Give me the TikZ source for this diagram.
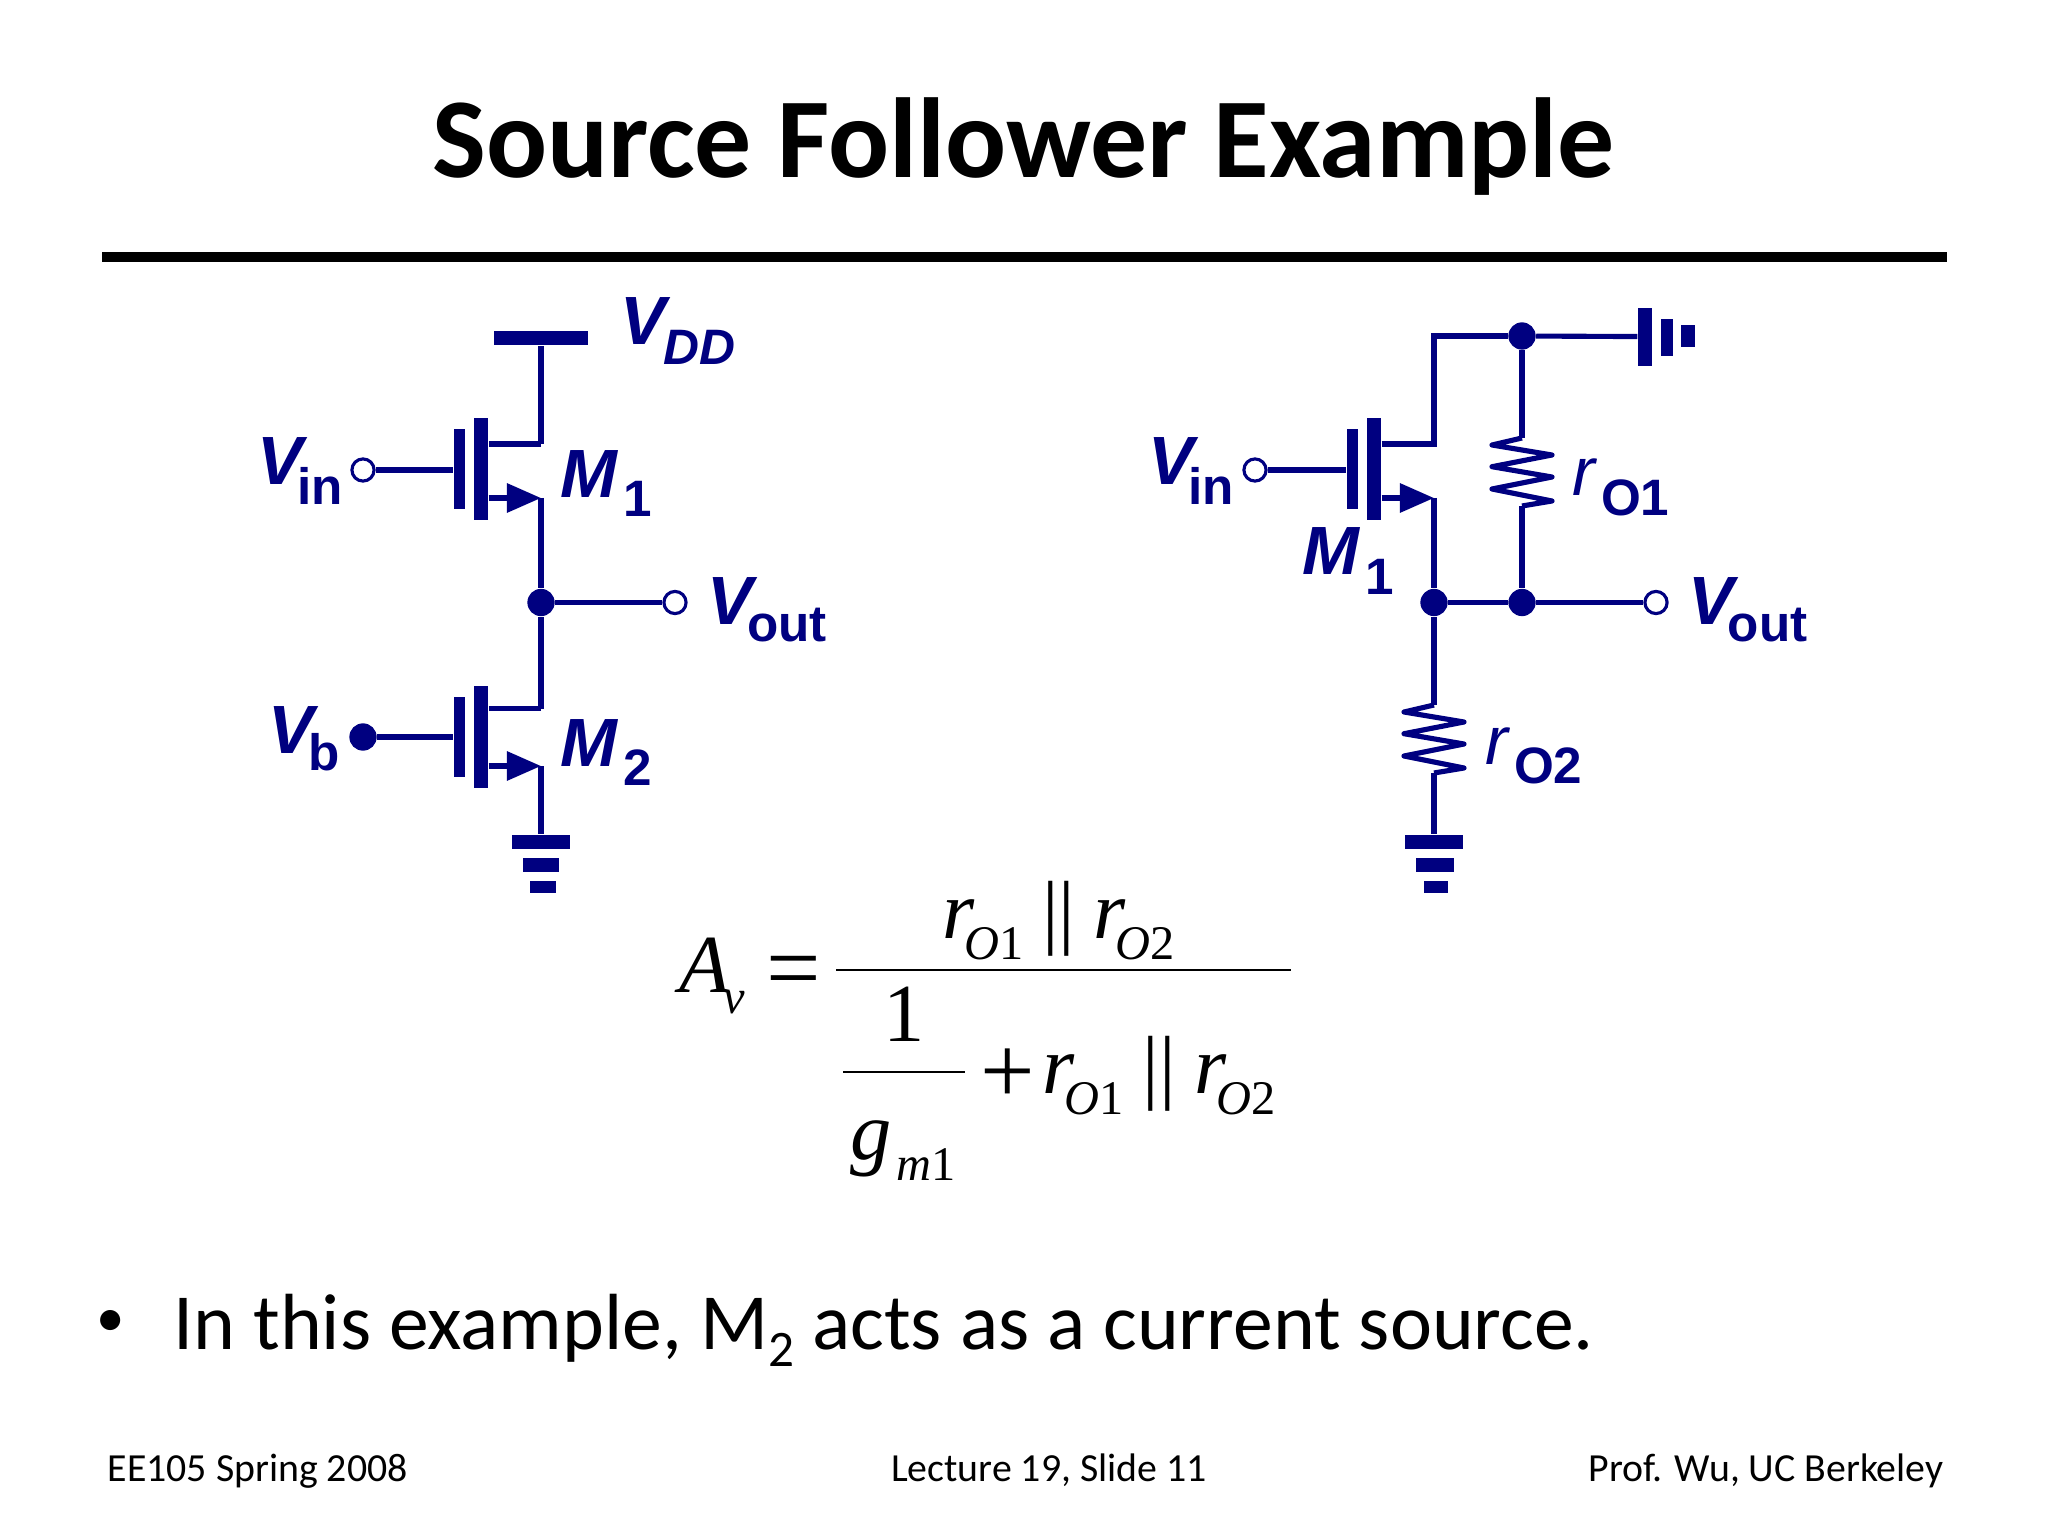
\documentclass[tikz,border=0pt]{standalone}
\usepackage{fontspec}
\usepackage{tikz}
\usetikzlibrary{arrows.meta}
\setmainfont{Carlito}
\setsansfont{Liberation Sans}
\newfontfamily\eqfont{Liberation Serif}
\definecolor{circblue}{RGB}{0,0,128}
\newcommand{\labbig}{\fontsize{24}{24}\selectfont\sffamily\bfseries\itshape}
\newcommand{\labsub}[2]{\kern-2pt\raisebox{#1}{\fontsize{18}{18}\selectfont\sffamily\bfseries\upshape #2}}
\newcommand{\labr}[1]{{\mdseries r}\kern2pt\raisebox{-7pt}{\fontsize{18}{18}\selectfont\sffamily\bfseries\upshape O#1}}
\newcommand{\eqsub}[2]{\raisebox{-7.5pt}{\fontsize{17}{17}\selectfont\itshape #1\upshape #2}}
\newcommand{\eqpar}{\eqfont\fontsize{29}{29}\selectfont\textit{r}\kern-3.5pt\eqsub{O}{1}\hspace{6.5pt}||\hspace{6.5pt}\textit{r}\kern-3.5pt\eqsub{O}{2}}
\tikzset{
	wire/.style={draw=circblue,line width=1.8pt},
	zigzag/.style={wire,line join=round},
	srcarrow/.style={wire,-{Triangle[length=12pt,width=10pt]},shorten >=0pt},
	gatebar/.style={fill=circblue,inner sep=0pt,minimum width=4pt,minimum height=28pt},
	chanbar/.style={fill=circblue,inner sep=0pt,minimum width=5pt,minimum height=36pt},
	railbar/.style={fill=circblue,inner sep=0pt,minimum width=#1,minimum height=5.2pt},
	gndbar/.style={fill=circblue,inner sep=0pt,minimum height=5pt,minimum width=#1},
	vbar/.style={fill=circblue,inner sep=0pt,minimum width=5pt,minimum height=#1},
	dot/.style={circle,fill=circblue,inner sep=0pt,minimum size=9.6pt},
	term/.style={circle,draw=circblue,fill=white,line width=1.1pt,inner sep=0pt,minimum size=7.8pt},
	lab/.style={text=circblue,font=\labbig,inner sep=0pt,anchor=base west},
	body/.style={inner sep=0pt,anchor=base west},
	eq/.style={inner sep=0pt,anchor=base west,font=\eqfont\fontsize{29}{29}\selectfont},
}
\begin{document}
\begin{tikzpicture}[x=0.35156pt,y=-0.35156pt]
	\useasboundingbox (0,0) rectangle (2048,1536);
	% slide text
	\node[inner sep=0pt,anchor=base,font=\fontsize{40}{40}\selectfont\bfseries] (title) at (1023.5,178) {Source Follower Example};
	\coordinate (rulel) at (102,257);
	\coordinate (ruler) at (1947,257);
	\draw[line width=3.2pt] (rulel) -- (ruler);
	\node[body,font=\fontsize{20}{20}\selectfont] (bul) at (96,1336) {•};
	\node[body,font=\fontsize{28}{28}\selectfont] (point) at (173,1349) {In this example, M\raisebox{-6pt}{\fontsize{18}{18}\selectfont 2} acts as a current source.};
	\node[body,font=\fontsize{14}{14}\selectfont] (foot1) at (107,1481.5) {EE105 Spring 2008};
	\node[inner sep=0pt,anchor=base,font=\fontsize{14}{14}\selectfont] (foot2) at (1049,1481.5) {Lecture 19, Slide 11};
	\node[inner sep=0pt,anchor=base east,font=\fontsize{14}{14}\selectfont] (foot3) at (1944,1481.5) {Prof. Wu, UC Berkeley};

	% left circuit
	\node[railbar=33pt] (vdd) at (541,338) {};
	\node[gatebar] (g1) at (459.5,469) {};
	\node[chanbar] (c1) at (481,469) {};
	\node[gatebar] (g2) at (459.5,737) {};
	\node[chanbar] (c2) at (481,737) {};
	\node[term] (vin) at (363,470) {};
	\node[dot] (vb) at (363,737) {};
	\node[dot] (out) at (541,602.5) {};
	\node[term] (vout) at (675,602.5) {};
	\coordinate (d1) at (541,444);
	\coordinate (s1) at (541,498);
	\coordinate (d2) at (541,708.6);
	\coordinate (s2) at (541,766);
	\node[gndbar=20.6pt] (gnda) at (541,842) {};
	\node[gndbar=12.4pt] (gndb) at (541,865) {};
	\node[gndbar=9.2pt,minimum height=4.4pt] (gndc) at (543,887) {};
	\path[wire]
	(vdd) edge (d1)
	(d1) edge (c1.east |- d1)
	(vin) edge (g1.west |- vin)
	(s1) edge (out)
	(out) edge (vout)
	(out) edge (d2)
	(d2) edge (c2.east |- d2)
	(vb) edge (g2.west |- vb)
	(s2) edge (gnda);
	\draw[srcarrow] (c1.east |- s1) -- (s1);
	\draw[srcarrow] (c2.east |- s2) -- (s2);
	\node[lab] (lvdd) at (620,344.6) {V\kern-1pt\raisebox{-7pt}{\fontsize{17.5}{17.5}\selectfont DD}};
	\node[lab] (lvin) at (257,485) {V\labsub{-7pt}{in}};
	\node[lab] (lm1) at (560,498) {M\kern4pt\labsub{-6.5pt}{1}};
	\node[lab] (lvout) at (707,624.5) {V\labsub{-6pt}{out}};
	\node[lab] (lvb) at (268,753) {V\labsub{-6pt}{b}};
	\node[lab] (lm2) at (560,766.7) {M\kern4pt\labsub{-6.5pt}{2}};

	% right circuit
	\node[dot] (top) at (1522,336) {};
	\node[vbar=20.4pt] (bata) at (1645,336.6) {};
	\node[vbar=13pt,minimum width=4pt] (batb) at (1667,337.5) {};
	\node[vbar=8pt] (batc) at (1688,336) {};
	\node[gatebar] (rg1) at (1352.5,469) {};
	\node[chanbar] (rc1) at (1374,469) {};
	\node[term] (rvin) at (1255,470) {};
	\node[dot] (rs) at (1434,602.5) {};
	\node[dot] (rm) at (1522,602.5) {};
	\node[term] (rvout) at (1656,602.5) {};
	\coordinate (rcorner) at (1434,336);
	\coordinate (rd1) at (1434,444);
	\coordinate (rs1) at (1434,498);
	\coordinate (r1t) at (1522,438);
	\coordinate (r1b) at (1522,506);
	\coordinate (r2t) at (1434,705);
	\coordinate (r2b) at (1434,773);
	\node[gndbar=20.4pt] (rgnda) at (1434,842) {};
	\node[gndbar=13.4pt] (rgndb) at (1435,865) {};
	\node[gndbar=8.4pt,minimum height=4.4pt] (rgndc) at (1436,887) {};
	\draw[wire] (rc1.east |- rd1) -- (rd1) -- (rcorner) -- (top);
	\path[wire]
	(top) edge (bata)
	(top) edge (r1t)
	(r1b) edge (rm)
	(rvin) edge (rg1.west |- rvin)
	(rs1) edge (rs)
	(rs) edge (rm)
	(rm) edge (rvout)
	(rs) edge (r2t)
	(r2b) edge (rgnda);
	\draw[srcarrow] (rc1.east |- rs1) -- (rs1);
	\draw[zigzag] (r1t) -- ++(-30,7) -- ++(60,10) -- ++(-60,11.7) -- ++(60,10.3) -- ++(-60,12) -- ++(60,12) -- (r1b);
	\draw[zigzag] (r2t) -- ++(-30,7) -- ++(60,10) -- ++(-60,11.7) -- ++(60,10.3) -- ++(-60,12) -- ++(60,12) -- (r2b);
	\node[lab] (rlvin) at (1148,485) {V\labsub{-7pt}{in}};
	\node[lab] (rlm1) at (1302,574.7) {M\kern4pt\labsub{-7pt}{1}};
	\node[lab] (rlvout) at (1687.5,624.5) {V\labsub{-6pt}{out}};
	\node[lab] (rlo1) at (1572,496) {\labr{1}};
	\node[lab] (rlo2) at (1485,764) {\labr{2}};

	% gain
	\coordinate (fracl) at (836,970);
	\coordinate (fracr) at (1291,970);
	\coordinate (invl) at (843,1072);
	\coordinate (invr) at (964.5,1072);
	\draw[line width=1pt] (fracl) -- (fracr);
	\draw[line width=0.5pt] (invl) -- (invr);
	\node[eq] (gain) at (679,992) {\textit{A}};
	\node[eq,font=\eqfont\fontsize{17}{17}\selectfont\itshape] (gainv) at (723,1013) {v};
	\node[eq,font=\eqfont\fontsize{34}{34}\selectfont] (equal) at (766,1000) {=};
	\node[eq] (num) at (941.5,938) {\eqpar};
	\node[eq] (one) at (883,1041) {1};
	\node[eq] (gm) at (850,1159) {\textit{g}\kern1.5pt\eqsub{m}{1}};
	\node[eq,font=\eqfont\fontsize{34}{34}\selectfont] (plus) at (980,1103) {+};
	\node[eq] (den) at (1042,1093) {\eqpar};
\end{tikzpicture}
\end{document}
